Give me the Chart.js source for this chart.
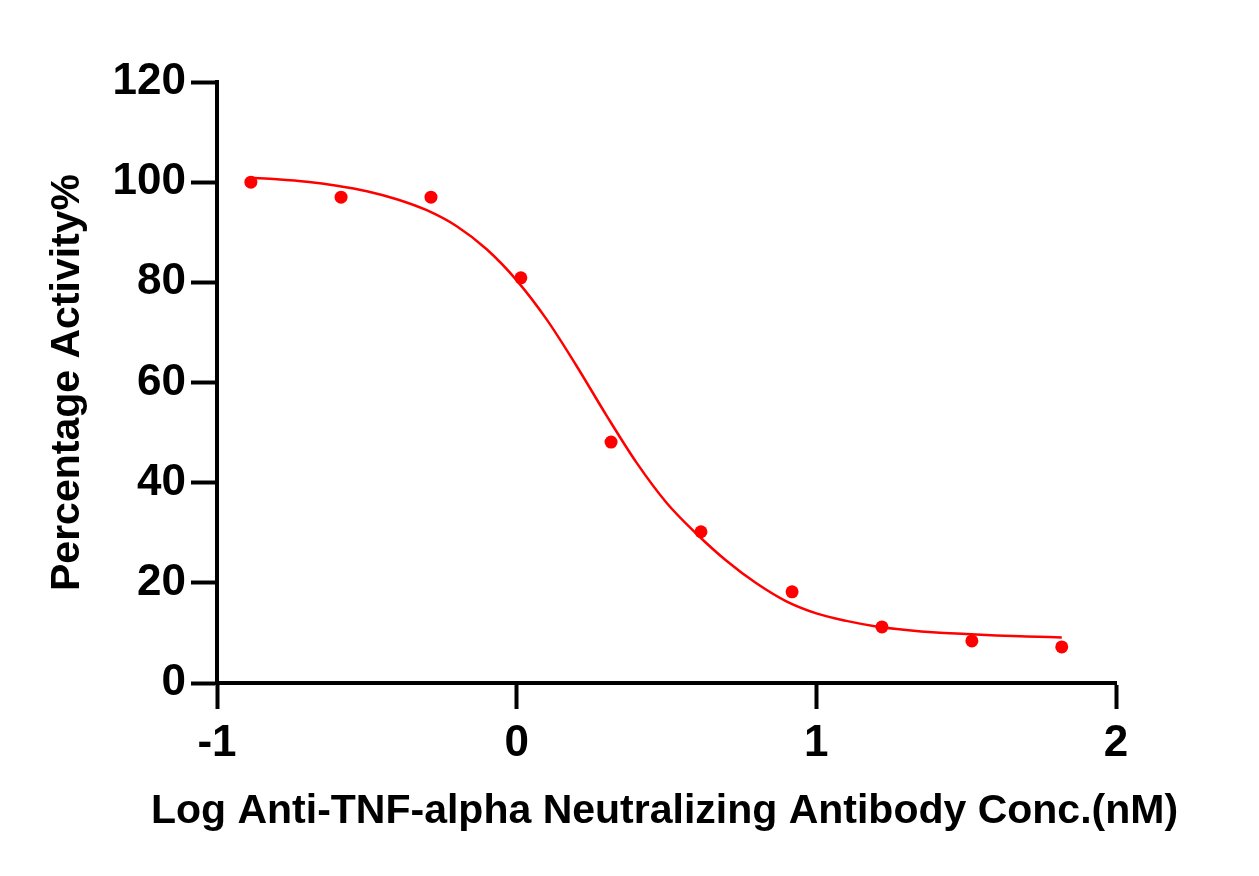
<!DOCTYPE html>
<html>
<head>
<meta charset="utf-8">
<script src="https://cdn.jsdelivr.net/npm/chart.js@4"></script>
<style>
  body { margin: 0; background: #fff; }
  #wrap { width: 1259px; height: 876px; }
</style>
</head>
<body>
<div id="wrap"><canvas id="chart" width="1259" height="876"></canvas></div>
<script>
// measured points (log conc, % activity)
const logConc = [-0.887, -0.586, -0.286, 0.014, 0.315, 0.615, 0.919, 1.219, 1.519, 1.819];
const activity = [100.0, 97.0, 97.0, 80.9, 48.1, 30.2, 18.2, 11.2, 8.4, 7.2];

// fitted curve
const curveX = [-0.887, -0.8, -0.7, -0.6, -0.5, -0.4, -0.3, -0.2, -0.1, 0.0, 0.1, 0.2, 0.3, 0.4, 0.5, 0.6, 0.7, 0.8, 0.9, 1.0, 1.1, 1.2, 1.3, 1.4, 1.5, 1.6, 1.7, 1.819];
const curveY = [100.9, 100.6, 100.1, 99.3, 98.2, 96.6, 94.4, 91.2, 86.6, 80.4, 72.6, 63.3, 53.4, 44.0, 36.0, 29.8, 24.4, 19.9, 16.3, 13.9, 12.4, 11.3, 10.6, 10.1, 9.8, 9.5, 9.3, 9.1];

const xTicks = [-1, 0, 1, 2];
const yTicks = [0, 20, 40, 60, 80, 100, 120];

const xTitle = "Log Anti-TNF-alpha Neutralizing Antibody Conc.(nM)";
const yTitle = "Percentage Activity%";

const fontFam = '"Liberation Sans", Arial, sans-serif';
const red = "#ff0000";

const curveData = curveX.map((x, i) => ({ x: x, y: curveY[i] }));
const pointData = logConc.map((x, i) => ({ x: x, y: activity[i] }));

const axisLine = { display: true, color: "#000", width: 4 };
const gridOpts = {
  display: true,
  drawOnChartArea: false,
  drawTicks: true,
  tickLength: 26,
  tickWidth: 4,
  tickColor: "#000"
};

// x title is wider than the plot, so draw it here (scale title gets squeezed)
const xTitlePlugin = {
  id: "xTitle",
  afterDraw(chart) {
    const ctx = chart.ctx;
    const area = chart.chartArea;
    ctx.save();
    ctx.font = "bold 41px " + fontFam;
    ctx.fillStyle = "#000";
    ctx.textAlign = "center";
    ctx.textBaseline = "alphabetic";
    ctx.fillText(xTitle, (area.left + area.right) / 2 - 2, 823);
    ctx.restore();
  }
};

new Chart(document.getElementById("chart"), {
  type: "scatter",
  data: {
    datasets: [
      {
        label: "fit",
        data: curveData,
        showLine: true,
        borderColor: red,
        borderWidth: 2.5,
        pointRadius: 0,
        cubicInterpolationMode: "monotone",
        fill: false
      },
      {
        label: "data",
        data: pointData,
        backgroundColor: red,
        borderColor: red,
        pointRadius: 6.5,
        borderWidth: 0
      }
    ]
  },
  options: {
    responsive: false,
    animation: false,
    layout: { padding: { left: 0, top: 82, right: 143, bottom: 0 } },
    plugins: { legend: { display: false }, tooltip: { enabled: false } },
    scales: {
      x: {
        type: "linear",
        min: -1,
        max: 2,
        afterBuildTicks: s => { s.ticks = xTicks.map(v => ({ value: v })); },
        afterFit: s => { s.height = 876 - 683; },
        border: axisLine,
        grid: gridOpts,
        ticks: {
          color: "#000",
          padding: 8,
          font: { family: fontFam, size: 44, weight: "bold" }
        }
      },
      y: {
        type: "linear",
        min: 0,
        max: 120,
        afterBuildTicks: s => { s.ticks = yTicks.map(v => ({ value: v })); },
        afterFit: s => { s.width = 217; },
        border: axisLine,
        grid: gridOpts,
        ticks: {
          color: "#000",
          padding: 5,
          font: { family: fontFam, size: 44, weight: "bold" }
        },
        title: {
          display: true,
          text: yTitle,
          color: "#000",
          padding: { top: 43, bottom: 0 },
          font: { family: fontFam, size: 41, weight: "bold" }
        }
      }
    }
  },
  plugins: [xTitlePlugin]
});
</script>
</body>
</html>
